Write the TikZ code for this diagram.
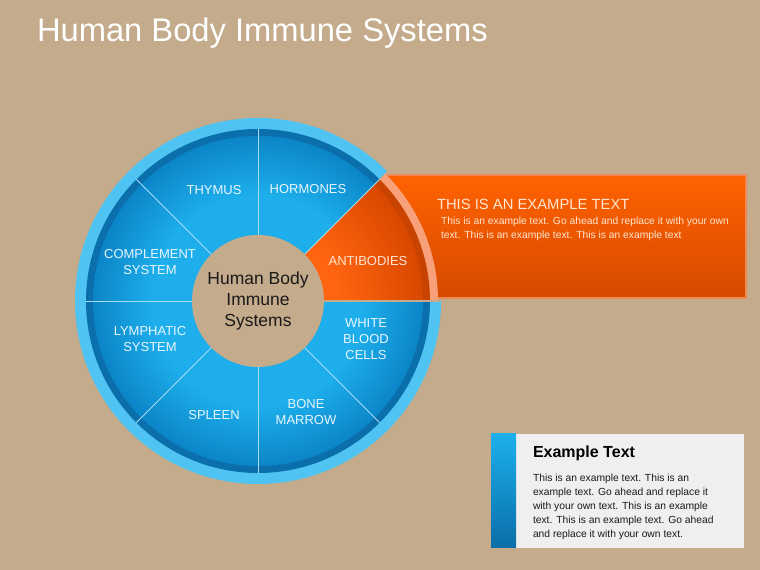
\documentclass[tikz,border=0pt]{standalone}
\usepackage{fontspec}
\setmainfont{Liberation Sans}
\usetikzlibrary{calc}
\definecolor{bg}{HTML}{C3AB8B}
\definecolor{ringLight}{HTML}{4FC4F3}
\definecolor{ringDark}{HTML}{0B6FAC}
\definecolor{segLight}{HTML}{1DAEEB}
\definecolor{segDark}{HTML}{0B85C8}
\definecolor{orLight}{HTML}{F7A07A}
\definecolor{orRing}{HTML}{C94300}
\definecolor{orInner}{HTML}{FF6510}
\definecolor{orOuter}{HTML}{D84800}
\definecolor{orTop}{HTML}{FF6200}
\definecolor{orBot}{HTML}{D54A00}
\definecolor{orEdge}{HTML}{EE8A55}
\definecolor{labelc}{HTML}{E8F6FF}
\definecolor{peach}{HTML}{FFE6D2}
\definecolor{divider}{HTML}{A8DDF4}
\definecolor{boxgrey}{HTML}{EFEFEF}
\definecolor{stripTop}{HTML}{1CB0EC}
\definecolor{stripBot}{HTML}{0A6EA8}
\definecolor{inktext}{HTML}{1A1A1A}
\pgfdeclareradialshading{bluedisc}{\pgfpoint{0bp}{0bp}}{color(0bp)=(segLight); color(16bp)=(segLight); color(25bp)=(segDark); color(50bp)=(segDark)}
\pgfdeclareradialshading{orangedisc}{\pgfpoint{0bp}{0bp}}{color(0bp)=(orInner); color(12bp)=(orInner); color(25bp)=(orOuter); color(50bp)=(orOuter)}
\begin{document}
\begin{tikzpicture}[x=1pt,y=1pt,
  every node/.style={inner sep=0pt, outer sep=0pt},
  lbl/.style={text=labelc, font=\fontsize{13}{16}\selectfont, align=center},
  hub/.style={text=inktext, font=\fontsize{17.5}{21}\selectfont, align=center},
  ttl/.style={text=white, font=\fontsize{32.7}{36}\selectfont, anchor=west},
  orhead/.style={text=peach, font=\fontsize{14.8}{17}\selectfont, anchor=west},
  orbody/.style={text=peach, font=\fontsize{10.3}{14}\selectfont, anchor=north west, align=left},
  exhead/.style={text=black, font=\bfseries\fontsize{16}{18}\selectfont, anchor=west},
  exbody/.style={text=inktext, font=\fontsize{10.3}{14}\selectfont, anchor=north west, align=left},
  divline/.style={draw=divider, line width=0.8pt}]
\fill[bg] (0,0) rectangle (760,570);
\useasboundingbox (0,0) rectangle (760,570);
\coordinate (C) at (258,269);

% title
\node[ttl] (title) at (37,537) {Human Body Immune Systems};

% orange callout rectangle
\coordinate (orA) at (380,272);
\coordinate (orB) at (746,395);
\shade[top color=orTop, bottom color=orBot] (orA) rectangle (orB);
\draw[orEdge, line width=1.5pt] (orA) rectangle (orB);

% light blue outer ring (45..360)
\fill[ringLight] (C) -- ++(45:183pt) arc[start angle=45, end angle=360, radius=183pt] -- cycle;
% dark band
\fill[ringDark] (C) circle[radius=172pt];
% segment disc
\shade[shading=bluedisc] (C) circle[radius=165pt];

% orange wedge 0..45
\fill[orLight] (C) -- ++(0:180pt) arc[start angle=0, end angle=45, radius=180pt] -- cycle;
\fill[orRing] (C) -- ++(0:172pt) arc[start angle=0, end angle=45, radius=172pt] -- cycle;
\begin{scope}
  \clip (C) -- ++(0:165pt) arc[start angle=0, end angle=45, radius=165pt] -- cycle;
  \shade[shading=orangedisc] (C) circle[radius=165pt];
\end{scope}

% hub
\fill[bg] (C) circle[radius=66pt];

% dividers
\foreach \a in {45,90,...,315} {
  \draw[divline] ($(C)+(\a:66pt)$) -- ($(C)+(\a:172pt)$);
}
\draw[draw=bg, line width=1.5pt] ($(C)+(0:66pt)$) -- ($(C)+(0:182pt)$);
\draw[draw=bg, line width=1pt] ($(C)+(45:172pt)$) -- ($(C)+(45:184pt)$);

% segment labels
\node[lbl] (hormones) at (308,381) {HORMONES};
\node[lbl] (thymus) at (214,380) {THYMUS};
\node[lbl] (complement) at (150,308) {COMPLEMENT\\SYSTEM};
\node[lbl] (lymphatic) at (150,231) {LYMPHATIC\\SYSTEM};
\node[lbl] (spleen) at (214,155) {SPLEEN};
\node[lbl] (bone) at (306,158) {BONE\\MARROW};
\node[lbl] (wbc) at (366,231) {WHITE\\BLOOD\\CELLS};
\node[lbl, text=peach] (antibodies) at (368,309) {ANTIBODIES};

% hub text
\node[hub] (hubtext) at (C) {Human Body\\Immune\\Systems};

% orange callout text
\node[orhead] (orheadtext) at (437,366) {THIS IS AN EXAMPLE TEXT};
\node[orbody] (orbodytext) at (441,353) {This is an example text. Go ahead and replace it with your own\\text. This is an example text. This is an example text};

% example box
\coordinate (exA) at (491,22);
\coordinate (exB) at (744,136);
\coordinate (exS) at (516,136);
\fill[boxgrey] (exA) rectangle (exB);
\shade[top color=stripTop, bottom color=stripBot] (exA) rectangle (exS);
\node[exhead] (exheadtext) at (533,117) {Example Text};
\node[exbody] (exbodytext) at (533,96) {This is an example text. This is an\\example text. Go ahead and replace it\\with your own text. This is an example\\text. This is an example text. Go ahead\\and replace it with your own text.};
\end{tikzpicture}
\end{document}
